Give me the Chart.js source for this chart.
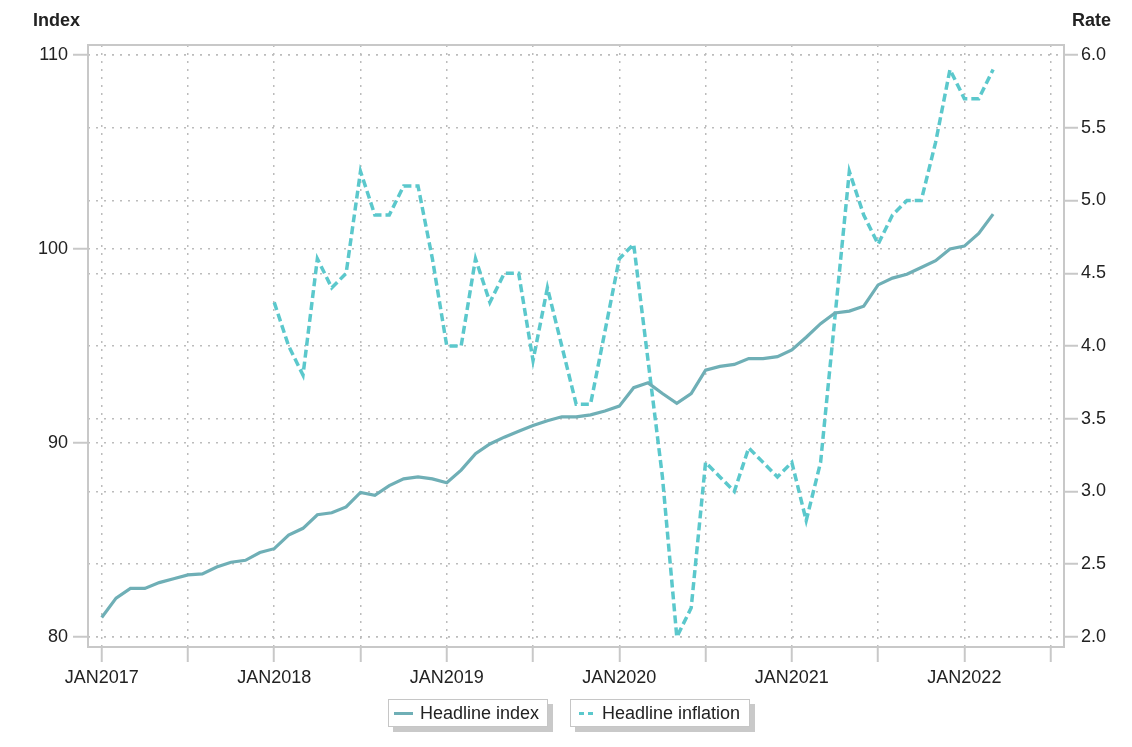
<!DOCTYPE html>
<html>
<head>
<meta charset="utf-8">
<script src="https://cdn.jsdelivr.net/npm/chart.js@4.4.0/dist/chart.umd.min.js"></script>
<style>
  body { margin: 0; background: #fff; font-family: 'Liberation Sans', Arial, sans-serif; color: #222; }
  #wrap { position: relative; width: 1132px; height: 747px; }
  .axis-title { position: absolute; top: 10px; font-weight: bold; font-size: 18px; }
  .legend-box { position: absolute; top: 699px; height: 28px; box-sizing: border-box; border: 1px solid #c6c6c6;
                background: #fff; box-shadow: 5px 5px 0 #c9c9c9; font-size: 18px; line-height: 26px; white-space: nowrap; }
  .legend-box .swatch { position: absolute; top: 12px; height: 3px; }
  .legend-box .txt { position: absolute; top: 0; }
</style>
</head>
<body>
<div id="wrap">
  <canvas id="chart" width="1132" height="747"></canvas>
  <div class="axis-title" style="left:33px">Index</div>
  <div class="axis-title" style="left:1072px">Rate</div>
  <div id="legend"></div>
</div>
<script>
// Months counted from JAN2017 (0 = JAN2017)
const tickLabels = ['JAN2017', 'JAN2018', 'JAN2019', 'JAN2020', 'JAN2021', 'JAN2022'];
const monthTicks = [0, 6, 12, 18, 24, 30, 36, 42, 48, 54, 60, 66];
const indexTicks = [80, 90, 100, 110];
const rateTicks = [2.0, 2.5, 3.0, 3.5, 4.0, 4.5, 5.0, 5.5, 6.0];

// Headline index, JAN2017 - MAR2022
const indexStart = 0;
const headlineIndex = [
    81.0, 82.0, 82.5, 82.5, 82.8, 83.0, 83.2, 83.25, 83.6, 83.85, 83.95, 84.35,
    84.55, 85.25, 85.6, 86.3, 86.4, 86.7, 87.45, 87.3, 87.8, 88.15, 88.25, 88.15,
    87.95, 88.6, 89.45, 89.95, 90.3, 90.6, 90.9, 91.15, 91.35, 91.35, 91.45, 91.65,
    91.9, 92.85, 93.1, 92.55, 92.05, 92.55, 93.75, 93.95, 94.05, 94.35, 94.35, 94.45,
    94.8, 95.45, 96.15, 96.7, 96.8, 97.05, 98.15, 98.5, 98.7, 99.05, 99.4, 100.0,
    100.15, 100.8, 101.8
];

// Headline inflation, JAN2018 - MAR2022
const inflationStart = 12;
const headlineInflation = [
    4.3, 4.0, 3.8, 4.6, 4.4, 4.5, 5.2, 4.9, 4.9, 5.1, 5.1, 4.6,
    4.0, 4.0, 4.6, 4.3, 4.5, 4.5, 3.9, 4.4, 4.0, 3.6, 3.6, 4.1,
    4.6, 4.7, 3.9, 3.1, 2.0, 2.2, 3.2, 3.1, 3.0, 3.3, 3.2, 3.1,
    3.2, 2.8, 3.2, 4.2, 5.2, 4.9, 4.7, 4.9, 5.0, 5.0, 5.4, 5.9,
    5.7, 5.7, 5.9
];

const indexColor = '#6fafb6';
const inflationColor = '#5bc8cc';
const gridColor = '#bcbcbc';
const frameColor = '#c8c8c8';

function toPoints(start, values) {
    return values.map((v, i) => ({ x: start + i, y: v }));
}

Chart.defaults.font.family = "'Liberation Sans', Arial, sans-serif";
Chart.defaults.font.size = 18;
Chart.defaults.color = '#222';

// Box around the plot area
const framePlugin = {
    id: 'frame',
    beforeDatasetsDraw(chart) {
        const { ctx, chartArea: a } = chart;
        ctx.save();
        ctx.strokeStyle = frameColor;
        ctx.lineWidth = 2;
        ctx.strokeRect(a.left, a.top, a.right - a.left, a.bottom - a.top);
        ctx.restore();
    }
};

function fixedSize(prop, size) {
    return function (scale) {
        scale[prop] = size;
        scale.paddingLeft = 0;
        scale.paddingRight = 0;
        scale.paddingTop = 0;
        scale.paddingBottom = 0;
    };
}

const gridOpts = {
    color: gridColor,
    lineWidth: 1.5,
    tickColor: frameColor,
    tickWidth: 2,
    tickLength: 15,
    tickBorderDash: []
};

const chart = new Chart(document.getElementById('chart').getContext('2d'), {
    type: 'line',
    data: {
        datasets: [{
            label: 'Headline index',
            data: toPoints(indexStart, headlineIndex),
            yAxisID: 'y',
            borderColor: indexColor,
            borderWidth: 3.2,
            pointRadius: 0,
            tension: 0
        }, {
            label: 'Headline inflation',
            data: toPoints(inflationStart, headlineInflation),
            yAxisID: 'y1',
            borderColor: inflationColor,
            borderWidth: 3.5,
            borderDash: [8, 4],
            pointRadius: 0,
            tension: 0
        }]
    },
    options: {
        responsive: false,
        animation: false,
        layout: { padding: { top: 45, left: 0, right: 0, bottom: 0 } },
        plugins: { legend: { display: false }, tooltip: { enabled: false } },
        scales: {
            x: {
                type: 'linear',
                min: -0.953,
                max: 66.93,
                afterBuildTicks: s => { s.ticks = monthTicks.map(v => ({ value: v })); },
                afterFit: fixedSize('height', 100),
                grid: gridOpts,
                border: { display: false, dash: [2, 6] },
                ticks: {
                    padding: 5,
                    maxRotation: 0,
                    autoSkip: false,
                    callback: v => (v % 12 === 0 ? tickLabels[v / 12] : '')
                }
            },
            y: {
                position: 'left',
                min: 79.48,
                max: 110.52,
                afterBuildTicks: s => { s.ticks = indexTicks.map(v => ({ value: v })); },
                afterFit: fixedSize('width', 88),
                grid: gridOpts,
                border: { display: false, dash: [2, 6] },
                ticks: { padding: 5, callback: v => String(v) }
            },
            y1: {
                position: 'right',
                min: 1.931,
                max: 6.069,
                afterBuildTicks: s => { s.ticks = rateTicks.map(v => ({ value: v })); },
                afterFit: fixedSize('width', 68),
                grid: Object.assign({}, gridOpts, { tickLength: 14 }),
                border: { display: false, dash: [2, 6] },
                ticks: { padding: 3, callback: v => v.toFixed(1) }
            }
        }
    },
    plugins: [framePlugin]
});

// Boxed legend under the plot
const legendBoxes = [
    { left: 388, width: 160, swLeft: 5, swWidth: 19, txtLeft: 31 },
    { left: 570, width: 180, swLeft: 8, swWidth: 17, txtLeft: 31 }
];
const legend = document.getElementById('legend');
chart.data.datasets.forEach((ds, i) => {
    const b = legendBoxes[i];
    const box = document.createElement('div');
    box.className = 'legend-box';
    box.style.left = b.left + 'px';
    box.style.width = b.width + 'px';
    const sw = document.createElement('div');
    sw.className = 'swatch';
    sw.style.left = b.swLeft + 'px';
    sw.style.width = b.swWidth + 'px';
    sw.style.background = ds.borderDash
        ? 'repeating-linear-gradient(90deg, ' + ds.borderColor + ' 0 5px, transparent 5px 9px)'
        : ds.borderColor;
    const txt = document.createElement('div');
    txt.className = 'txt';
    txt.style.left = b.txtLeft + 'px';
    txt.textContent = ds.label;
    box.appendChild(sw);
    box.appendChild(txt);
    legend.appendChild(box);
});
</script>
</body>
</html>
